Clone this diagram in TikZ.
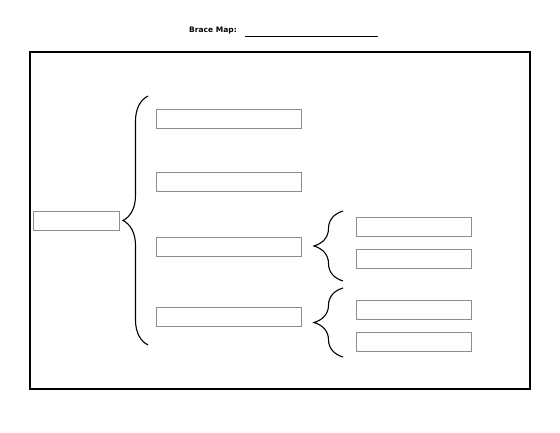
\documentclass[tikz,border=0pt]{standalone}
\usepackage{fontspec}
\setmainfont{DejaVu Sans}
\usetikzlibrary{decorations.pathreplacing}

\begin{document}
\begin{tikzpicture}[
		x=1pt, y=-1pt,
		box/.style={draw=gray!90, line width=0.9pt, inner sep=0pt, outer sep=0pt, minimum height=19pt},
		topic/.style={box, minimum width=86pt},
		part/.style={box, minimum width=145pt},
		subpart/.style={box, minimum width=115pt},
		curly/.style={draw, line width=1.1pt, decorate, decoration={brace, amplitude=#1}},
	]
		\useasboundingbox (0,0) rectangle (560,433);
		\node (title) at (213,31) {\fontsize{7.5}{9}\selectfont\bfseries Brace Map:};
		\coordinate (linea) at (245,36);
		\coordinate (lineb) at (378,36);
		\draw[line width=0.8pt] (linea) -- (lineb);
		\draw[line width=1.8pt] (30,52) rectangle (530,389);

		\node (whole) [topic] at (76,220.5) {};
		\node (p1) [part] at (229,118.5) {};
		\node (p2) [part] at (229,182.3) {};
		\node (p3) [part] at (229,246.5) {};
		\node (p4) [part] at (229,316.5) {};
		\node (s1) [subpart] at (413.5,226.6) {};
		\node (s2) [subpart] at (413.5,258.8) {};
		\node (s3) [subpart] at (413.5,309.5) {};
		\node (s4) [subpart] at (413.5,341.5) {};

		\draw[curly=25pt] (148,345) -- (148,96);
		\draw[curly=29pt] (343,281) -- (343,211);
		\draw[curly=29pt] (343,357) -- (343,288);
	\end{tikzpicture}
\end{document}
